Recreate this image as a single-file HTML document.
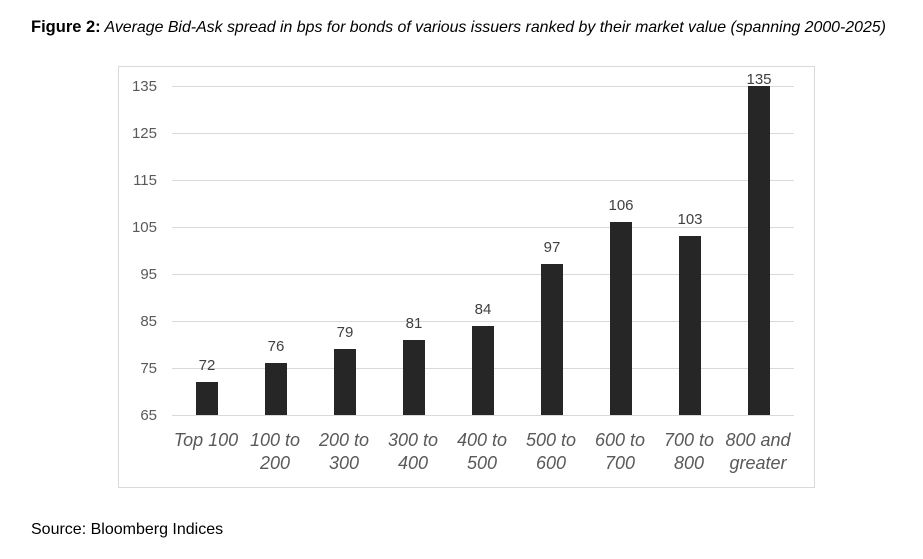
<!DOCTYPE html>
<html><head><style>
body{margin:0;background:#fff;width:923px;height:554px;overflow:hidden;font-family:"Liberation Sans",sans-serif;}
</style></head><body>
<svg width="923" height="554" xmlns="http://www.w3.org/2000/svg" font-family="Liberation Sans, sans-serif">
<text x="31" y="32" font-size="16.5" fill="#000"><tspan font-weight="bold">Figure 2:</tspan><tspan font-style="italic" font-size="15.9"> Average Bid-Ask spread in bps for bonds of various issuers ranked by their market value (spanning 2000-2025)</tspan></text>
<rect x="118.5" y="66.5" width="696" height="421" fill="#fff" stroke="#d9d9d9"/>
<g stroke="#d9d9d9" stroke-width="1">
<line x1="172" x2="794" y1="86.5" y2="86.5"/>
<line x1="172" x2="794" y1="133.5" y2="133.5"/>
<line x1="172" x2="794" y1="180.5" y2="180.5"/>
<line x1="172" x2="794" y1="227.5" y2="227.5"/>
<line x1="172" x2="794" y1="274.5" y2="274.5"/>
<line x1="172" x2="794" y1="321.5" y2="321.5"/>
<line x1="172" x2="794" y1="368.5" y2="368.5"/>
<line x1="172" x2="794" y1="415.5" y2="415.5"/>
</g>
<g font-size="15" fill="#595959" text-anchor="end">
<text x="157" y="91">135</text><text x="157" y="138">125</text><text x="157" y="185">115</text><text x="157" y="232">105</text><text x="157" y="279">95</text><text x="157" y="326">85</text><text x="157" y="373">75</text><text x="157" y="420">65</text>
</g>
<g fill="#262626">
<rect x="196" y="382" width="22" height="33"/>
<rect x="265" y="363" width="22" height="52"/>
<rect x="334" y="349" width="22" height="66"/>
<rect x="403" y="340" width="22" height="75"/>
<rect x="472" y="326" width="22" height="89"/>
<rect x="541" y="264" width="22" height="151"/>
<rect x="610" y="222" width="22" height="193"/>
<rect x="679" y="236" width="22" height="179"/>
<rect x="748" y="86" width="22" height="329"/>
</g>
<g font-size="15" fill="#404040" text-anchor="middle">
<text x="207" y="370">72</text><text x="276" y="351">76</text><text x="345" y="337">79</text><text x="414" y="328">81</text><text x="483" y="314">84</text><text x="552" y="252">97</text><text x="621" y="210">106</text><text x="690" y="224">103</text><text x="759" y="84">135</text>
</g>
<g font-size="18" fill="#595959" font-style="italic" text-anchor="middle">
<text x="206" y="446">Top 100</text>
<text x="275" y="446">100 to</text><text x="275" y="469">200</text>
<text x="344" y="446">200 to</text><text x="344" y="469">300</text>
<text x="413" y="446">300 to</text><text x="413" y="469">400</text>
<text x="482" y="446">400 to</text><text x="482" y="469">500</text>
<text x="551" y="446">500 to</text><text x="551" y="469">600</text>
<text x="620" y="446">600 to</text><text x="620" y="469">700</text>
<text x="689" y="446">700 to</text><text x="689" y="469">800</text>
<text x="758" y="446">800 and</text><text x="758" y="469">greater</text>
</g>
<text x="31" y="534" font-size="16" fill="#000">Source: Bloomberg Indices</text>
</svg>
</body></html>
